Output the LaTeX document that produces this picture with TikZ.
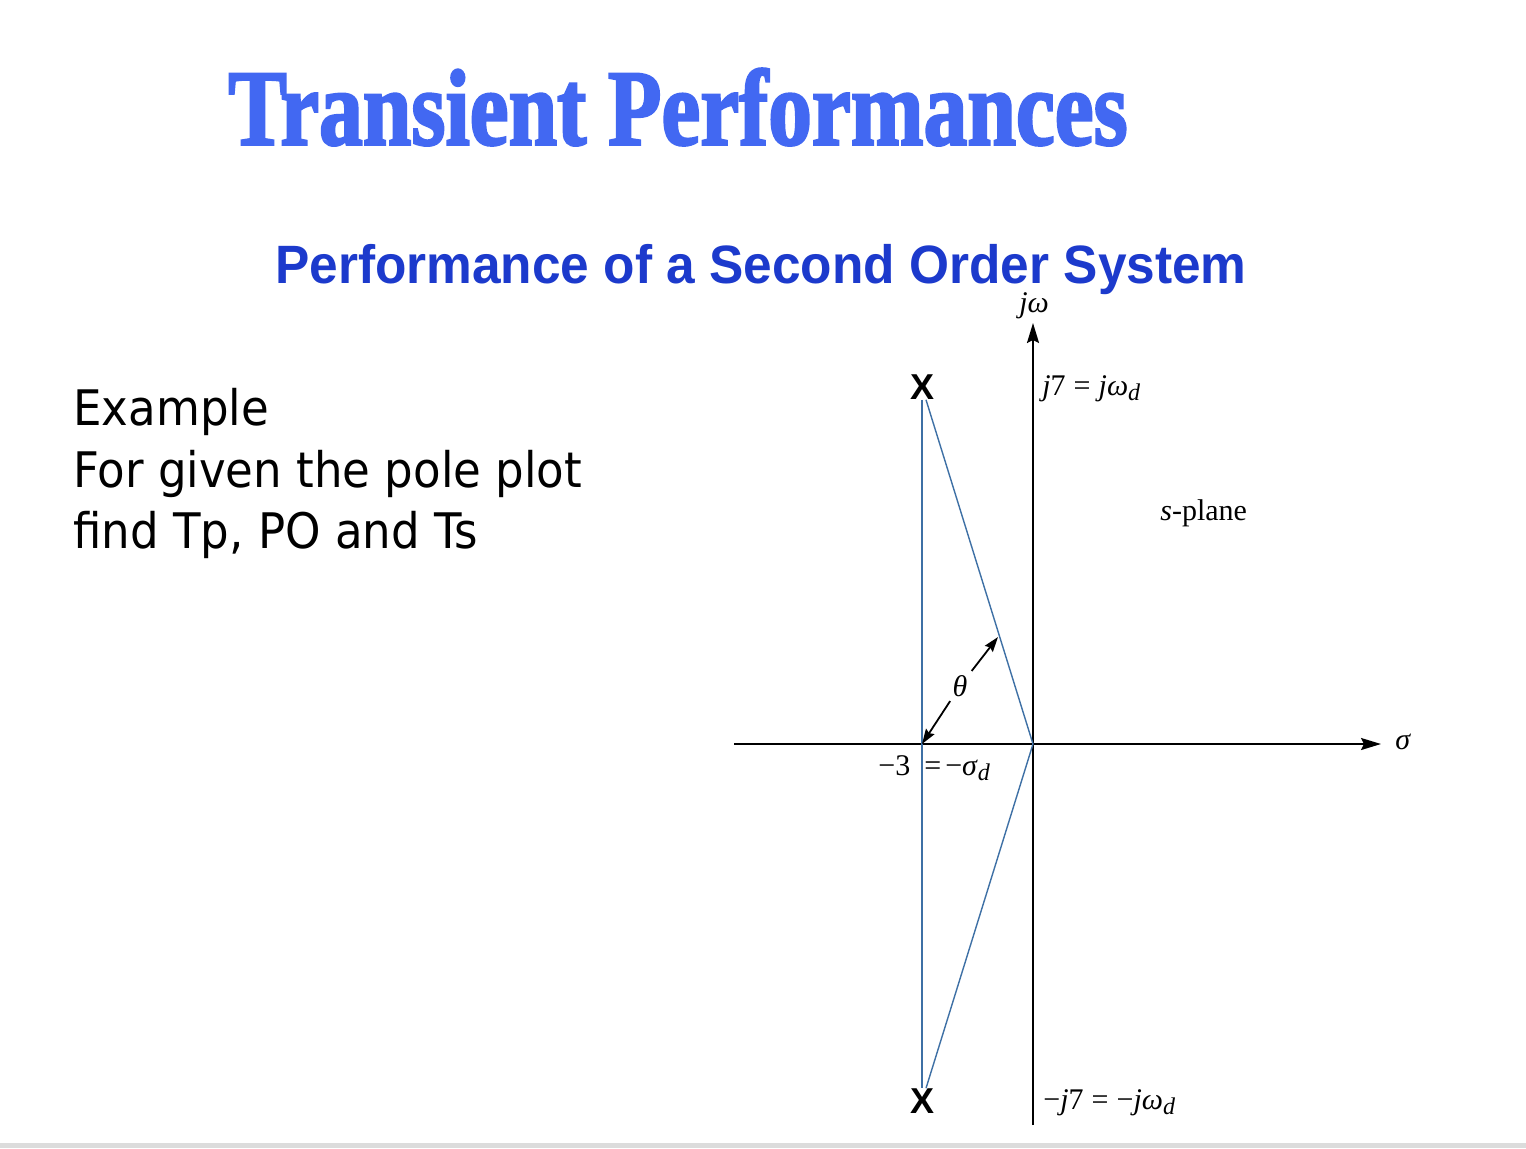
\documentclass[tikz,border=0pt]{standalone}
\usepackage{graphicx}
\usepackage{fontspec}
\setmainfont{Liberation Serif}
\newfontfamily\sansfont{Liberation Sans}
\newfontfamily\tahomafont{DejaVu Sans}
\newfontfamily\titlefont[FakeBold=2.5]{Liberation Serif Bold}
\usetikzlibrary{arrows.meta}
\definecolor{titleblue}{RGB}{66,104,242}
\definecolor{subblue}{RGB}{28,58,204}
\definecolor{rootblue}{RGB}{62,112,165}
\definecolor{stripgray}{RGB}{220,220,220}
\newcommand\subd{\raisebox{-0.4ex}{\fontsize{12}{12}\selectfont\textit{d}}}
\newcommand\eqs{\kern4pt=\kern4pt}
\newcommand\bodyline[1]{\scalebox{0.92}[1]{#1}}
\tikzset{
  axis/.style={line width=1pt,-{Stealth[length=10pt,width=6pt,inset=1.5pt]}},
  rootline/.style={rootblue,line width=0.7pt},
  anglearrow/.style={line width=0.9pt,-{Stealth[length=7.5pt,width=5pt,inset=1pt]}},
  lbl/.style={inner sep=0pt,font=\fontsize{15}{17}\selectfont},
  pole/.style={inner sep=0pt,font=\sansfont\bfseries\fontsize{18}{18}\selectfont},
  bodytext/.style={inner sep=0pt,anchor=base west,font=\tahomafont\fontsize{24.5}{30}\selectfont}
}
\begin{document}
\begin{tikzpicture}[x=0.5pt,y=-0.5pt]
\useasboundingbox (0,0) rectangle (1526,1148);
\fill[white] (0,0) rectangle (1526,1148);
\fill[stripgray] (0,1143) rectangle (1526,1148);
% titles
\node[inner sep=0pt,anchor=south west,text=titleblue] (title) at (228,146)
  {\resizebox{449.5pt}{38pt}{\titlefont Transient Performances}};
\node[inner sep=0pt,anchor=base,text=subblue,font=\sansfont\bfseries\fontsize{27}{30}\selectfont] (subtitle) at (761,283)
  {\scalebox{0.952}[1]{Performance of a Second Order System}};
% left text
\node[bodytext] (ex1) at (73,425) {\bodyline{Example}};
\node[bodytext] (ex2) at (73,487) {\bodyline{For given the pole plot}};
\node[bodytext] (ex3) at (73,548) {\bodyline{find Tp, PO and Ts}};
% axes
\coordinate (O) at (1033,744);
\coordinate (xl) at (734,744);
\coordinate (xr) at (1381,744);
\coordinate (yb) at (1033,1125);
\coordinate (yt) at (1033,323);
\draw[axis] (xl) -- (xr);
\draw[axis] (yb) -- (yt);
% poles
\node[pole] (p1) at (922,387) {X};
\node[pole] (p2) at (922,1101) {X};
\coordinate (sd) at (922,744);
\coordinate (t2) at (998,637);
\draw[rootline] (p1.south) -- (p2.north);
\draw[rootline] ([xshift=2pt]p1.south) -- (O) -- ([xshift=2pt]p2.north);
% angle
\node[lbl,inner sep=2pt] (th) at (960,686) {\textit{θ}};
\draw[anglearrow] (th) -- (sd);
\draw[anglearrow] (th) -- (t2);
% labels
\node[lbl,anchor=base] (jw) at (1034,312) {\textit{jω}};
\node[lbl,anchor=base west] (j7) at (1042,395) {\textit{j}7\eqs\textit{jω}\subd};
\node[lbl,anchor=base west] (splane) at (1160,520) {\textit{s}-plane};
\node[lbl,anchor=base west] (sigma) at (1395,749) {\textit{σ}};
\node[lbl,anchor=base west] (sig) at (878,775) {−3\kern7pt=\kern2pt−\textit{σ}\subd};
\node[lbl,anchor=base west] (mj7) at (1043,1109) {−\textit{j}7\eqs−\textit{jω}\subd};
\end{tikzpicture}
\end{document}
